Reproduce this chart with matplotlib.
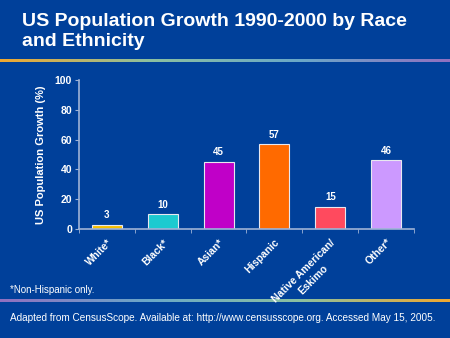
import numpy as np
import matplotlib
matplotlib.use("Agg")
import matplotlib.pyplot as plt
from matplotlib.colors import LinearSegmentedColormap

plt.rcParams['font.family'] = ['Liberation Sans', 'DejaVu Sans']

title_lines = ["US Population Growth 1990-2000 by Race", "and Ethnicity"]
groups = ["White*", "Black*", "Asian*", "Hispanic", "Native American/\nEskimo", "Other*"]
growth = [3, 10, 45, 57, 15, 46]
colors = ["#f5c000", "#1ccad0", "#c000c8", "#ff6a00", "#ff4a5e", "#cc99ff"]
yticks = [0, 20, 40, 60, 80, 100]

bg = "#00409a"
axis_col = "#9fb3d6"

fig = plt.figure(figsize=(4.5, 3.38), dpi=100, facecolor=bg)

# title, one text per line
for i, line in enumerate(title_lines):
    fig.text(0.049, 1 - (21 + 21 * i) / 338, line, color="white", fontsize=14,
             fontweight="bold", va="center", ha="left")

# gradient rules under the title and above the source line
grad = LinearSegmentedColormap.from_list("rule", ["#f0a830", "#8cc0a0", "#6aa8c8", "#9070c0"])
strip = np.linspace(0, 1, 256).reshape(1, -1)
top_rule = fig.add_axes([0, 1 - 62 / 338, 1, 3 / 338])
top_rule.imshow(strip, cmap=grad, aspect="auto")
top_rule.axis("off")
bot_rule = fig.add_axes([0, 1 - 302 / 338, 1, 3 / 338])
bot_rule.imshow(strip[:, ::-1], cmap=grad, aspect="auto")
bot_rule.axis("off")

ax = fig.add_axes([79 / 450, 1 - 229 / 338, 335 / 450, 149 / 338])
ax.set_facecolor(bg)
x = np.arange(len(groups))
bars = ax.bar(x, growth, width=0.54, color=colors, edgecolor="#e8e8f0", linewidth=0.8)
for xi, v in zip(x, growth):
    ax.text(xi, v + 3, str(v), ha="center", va="bottom", color="white",
            fontsize=7, fontweight="bold")

ax.set_xlim(-0.5, len(groups) - 0.5)
ax.set_ylim(0, 100)
ax.set_yticks(yticks)
ax.set_yticklabels([str(t) for t in yticks], color="white", fontsize=7.5, fontweight="bold")
ax.set_xticks(x)
ax.set_xticklabels(groups, rotation=45, ha="right", rotation_mode="anchor",
                   color="white", fontsize=7.5, fontweight="bold", linespacing=1.3,
                   multialignment="center")
ax.tick_params(axis="x", length=0, pad=6)
ax.set_xticks(np.arange(-0.5, len(groups)), minor=True)
ax.tick_params(axis="x", which="minor", length=3, color=axis_col, direction="out")
ax.tick_params(axis="y", length=3, color=axis_col, pad=2)
for side in ["top", "right"]:
    ax.spines[side].set_visible(False)
for side in ["left", "bottom"]:
    ax.spines[side].set_color(axis_col)
    ax.spines[side].set_linewidth(1.2)
ax.set_ylabel("US Population Growth (%)", color="white", fontsize=8,
              fontweight="bold", labelpad=6)

fig.text(0.022, 1 - 290 / 338, "*Non-Hispanic only.", color="white", fontsize=7,
         va="center", ha="left")
fig.text(0.022, 1 - 318 / 338,
         "Adapted from CensusScope. Available at: http://www.censusscope.org. Accessed May 15, 2005.",
         color="white", fontsize=7.2, va="center", ha="left")

fig.savefig("out.png", dpi=100, facecolor=bg)
